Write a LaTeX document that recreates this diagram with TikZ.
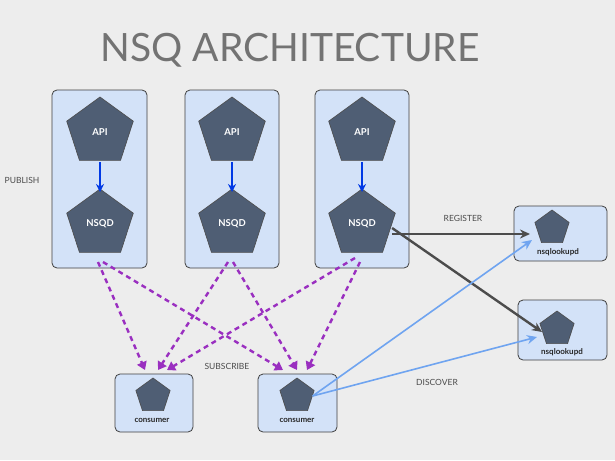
\documentclass[tikz,border=0pt]{standalone}
\usepackage{fontspec}
\setmainfont{Lato}
\usetikzlibrary{shapes.geometric,arrows.meta}
\definecolor{bg}{HTML}{EDEDED}
\definecolor{boxf}{HTML}{D3E2F8}
\definecolor{pent}{HTML}{4F5E74}
\definecolor{purp}{HTML}{9A2FC0}
\definecolor{lblue}{HTML}{6FA4F0}
\tikzset{
 box/.style={draw=black!75,fill=boxf,rounded corners=5pt,line width=0.8pt},
 pg/.style={regular polygon,regular polygon sides=5,draw=black!70,fill=pent,inner sep=0pt,line width=0.6pt,text=white,font=\bfseries\fontsize{9.5}{10}\selectfont},
 big/.style={pg,minimum size=70pt},
 small/.style={pg,minimum size=36pt},
 lab/.style={font=\fontsize{8.5}{10}\selectfont,text=black!70},
 sl/.style={font=\bfseries\fontsize{8}{9}\selectfont,text=black!85},
 pub/.style={-{Stealth[length=8pt,width=8pt]},line width=2pt,color=blue!75!cyan!90!black},
 sub/.style={-{Triangle[length=8pt,width=10pt]},line width=2.4pt,purp,dash pattern=on 5pt off 4pt},
 reg/.style={-{Stealth[length=10pt,width=9pt]},line width=2.4pt,black!70},
 dis/.style={-{Stealth[length=10pt,width=9pt]},line width=1.6pt,lblue},
}
\begin{document}
\begin{tikzpicture}[x=1pt,y=-1pt]
\fill[bg] (0,0) rectangle (615,460);
\useasboundingbox (0,0) rectangle (615,460);
\node[text=black!55,font=\fontsize{39}{42}\selectfont] (title) at (290,50) {NSQ ARCHITECTURE};
\node[box,minimum width=95pt,minimum height=178pt] (b1) at (99.5,179) {};
\node[box,minimum width=94pt,minimum height=178pt] (b2) at (232,179) {};
\node[box,minimum width=94pt,minimum height=178pt] (b3) at (362,179) {};
\foreach \i/\x in {1/100,2/232,3/362}{
 \node[big] (api\i) at (\x,132) {API};
 \node[big] (nsqd\i) at (\x,224) {NSQD};
 \draw[pub] (\x,162) -- (\x,192);
}
\node[lab] (pub) at (22,180) {PUBLISH};
\node[box,minimum width=93pt,minimum height=55pt] (l1b) at (560.5,233.5) {};
\node[small] (l1) at (552,228) {};
\node[sl] (l1t) at (558,252) {nsqlookupd};
\node[box,minimum width=89pt,minimum height=60pt] (l2b) at (562.5,330) {};
\node[small] (l2) at (557,329) {};
\node[sl] (l2t) at (562,352) {nsqlookupd};
\node[box,minimum width=78pt,minimum height=58pt] (c1b) at (154,403) {};
\node[small] (c1) at (153,396) {};
\node[sl] (c1t) at (152,420) {consumer};
\node[box,minimum width=79pt,minimum height=58pt] (c2b) at (297.5,403) {};
\node[small] (c2) at (297,396) {};
\node[sl] (c2t) at (297,420) {consumer};
\node[lab] (regl) at (463,218) {REGISTER};
\node[lab] (subl) at (227,366) {SUBSCRIBE};
\node[lab] (disl) at (437,382) {DISCOVER};
\coordinate (r1) at (530,234);
\coordinate (r2) at (542,332);
\draw[reg] (nsqd3.east |- 0,234) -- (r1);
\draw[reg] ([yshift=-4pt]nsqd3.east) -- (r2);
\coordinate (d1) at (532,240);
\coordinate (d2) at (537,337);
\draw[dis] (c2.east) -- (d1);
\draw[dis] (c2.east) -- (d2);
\coordinate (s11) at (145,370); \coordinate (s12) at (158,370); \coordinate (s13) at (167,370);
\coordinate (s21) at (283,370); \coordinate (s22) at (297,370); \coordinate (s23) at (307,370);
\draw[sub] (98,262) -- (s11);
\draw[sub] (103,262) -- (s21);
\draw[sub] (228,262) -- (s12);
\draw[sub] (233,262) -- (s22);
\draw[sub] (355,258) -- (s13);
\draw[sub] (360,262) -- (s23);
\end{tikzpicture}
\end{document}
